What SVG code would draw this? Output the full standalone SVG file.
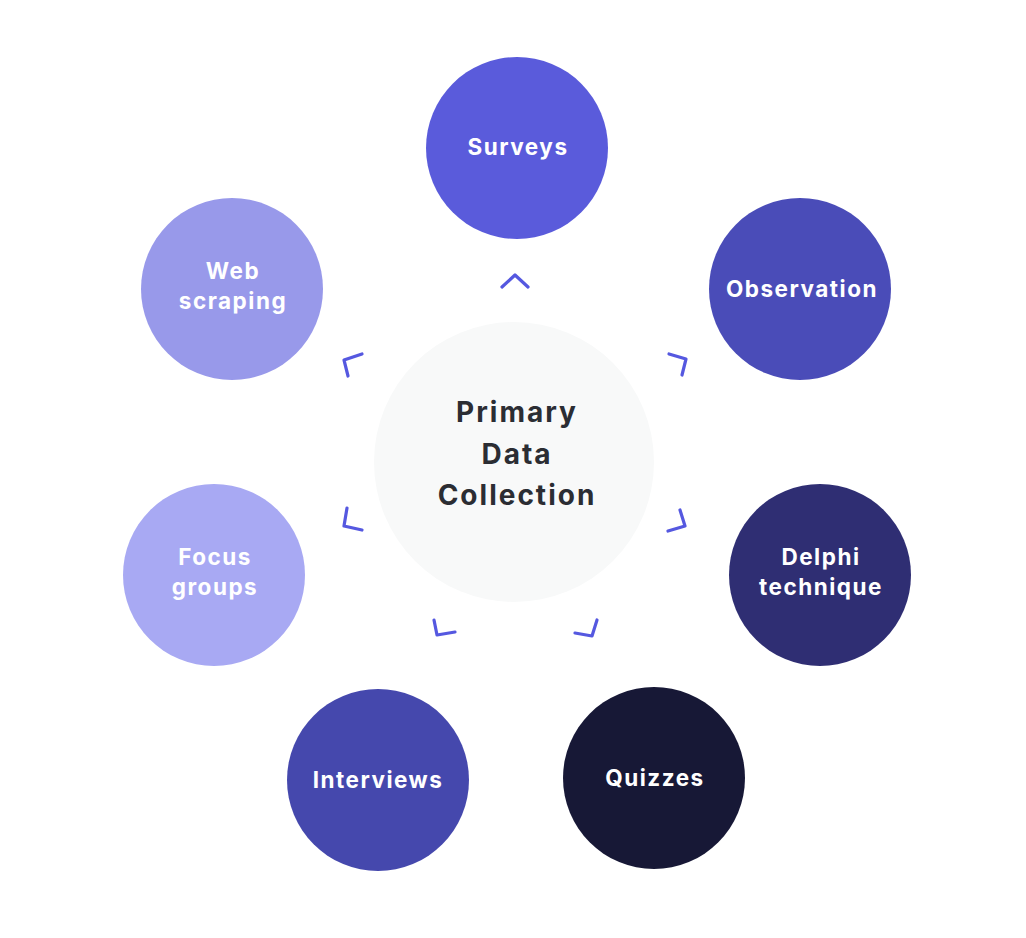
<svg xmlns="http://www.w3.org/2000/svg" width="1026" height="938" viewBox="0 0 1026 938">
<style>
.lbl{font-family:Inter,"Open Sans","Liberation Sans",sans-serif;font-weight:700;font-size:22.5px;letter-spacing:1.5px;fill:#ffffff;text-anchor:middle}
.ctr{font-family:Inter,"Open Sans","Liberation Sans",sans-serif;font-weight:700;font-size:28px;letter-spacing:2px;fill:#2b2d33;text-anchor:middle}
.chev{fill:none;stroke:#5558e0;stroke-width:3.2;stroke-linecap:round;stroke-linejoin:round}
</style>
<rect width="1026" height="938" fill="#ffffff"/>
<g id="center">
<circle cx="514" cy="462" r="140" fill="#f8f9f9"/>
<text class="ctr" x="517" y="422">Primary</text>
<text class="ctr" x="517" y="464">Data</text>
<text class="ctr" x="517" y="505">Collection</text>
</g>
<g id="connectors">
<polyline class="chev" points="502,287 515,275 528,287"/>
<polyline class="chev" points="362,354 344,360 348,376"/>
<polyline class="chev" points="669,354 686,359 682,375"/>
<polyline class="chev" points="347,508 344,526 362,530"/>
<polyline class="chev" points="680,510 685,526 668,531"/>
<polyline class="chev" points="434,620 437,635 455,632"/>
<polyline class="chev" points="597,620 592,636 575,633"/>
</g>
<g id="surveys">
<circle cx="517" cy="148" r="91" fill="#5a5bdb"/>
<text class="lbl" x="518" y="155">Surveys</text>
</g>
<g id="observation">
<circle cx="800" cy="289" r="91" fill="#4a4cb8"/>
<text class="lbl" x="802" y="297">Observation</text>
</g>
<g id="delphi">
<circle cx="820" cy="575" r="91" fill="#2f2e73"/>
<text class="lbl" x="821" y="565">Delphi</text>
<text class="lbl" x="821" y="595">technique</text>
</g>
<g id="quizzes">
<circle cx="654" cy="778" r="91" fill="#171836"/>
<text class="lbl" x="655" y="786">Quizzes</text>
</g>
<g id="interviews">
<circle cx="378" cy="780" r="91" fill="#4548ad"/>
<text class="lbl" x="378" y="788">Interviews</text>
</g>
<g id="focus">
<circle cx="214" cy="575" r="91" fill="#a8a9f3"/>
<text class="lbl" x="215" y="565">Focus</text>
<text class="lbl" x="215" y="595">groups</text>
</g>
<g id="webscraping">
<circle cx="232" cy="289" r="91" fill="#9899ea"/>
<text class="lbl" x="233" y="279">Web</text>
<text class="lbl" x="233" y="309">scraping</text>
</g>
</svg>
